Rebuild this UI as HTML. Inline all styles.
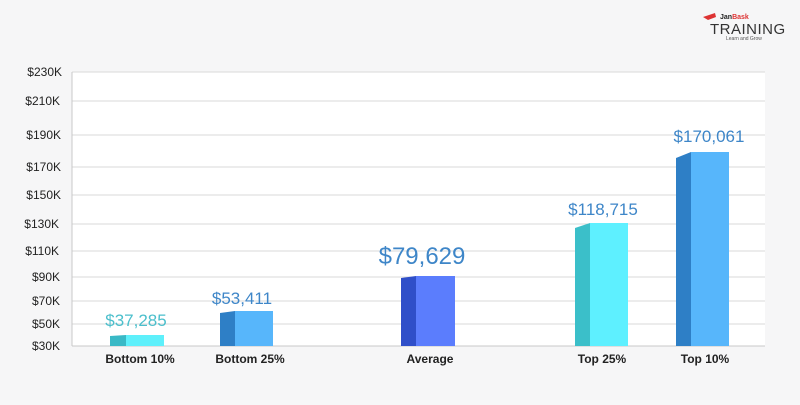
<!DOCTYPE html>
<html><head><style>
body{margin:0;width:800px;height:400px;background:#f7f7f8;font-family:"Liberation Sans",sans-serif;overflow:hidden}
</style></head><body>
<svg width="800" height="400" xmlns="http://www.w3.org/2000/svg" font-family="Liberation Sans, sans-serif">
<rect x="0" y="0" width="800" height="400" fill="#f6f6f7"/>
<rect x="72" y="72" width="693" height="274" fill="#ffffff"/>
<g stroke="#d9d9d9" stroke-width="1">
<line x1="72" y1="72" x2="765" y2="72"/><line x1="72" y1="101" x2="765" y2="101"/>
<line x1="72" y1="135" x2="765" y2="135"/><line x1="72" y1="167" x2="765" y2="167"/>
<line x1="72" y1="195" x2="765" y2="195"/><line x1="72" y1="224" x2="765" y2="224"/>
<line x1="72" y1="251" x2="765" y2="251"/><line x1="72" y1="277" x2="765" y2="277"/>
<line x1="72" y1="301" x2="765" y2="301"/><line x1="72" y1="324" x2="765" y2="324"/>
<line x1="72" y1="346" x2="765" y2="346" stroke="#c8c8c8"/>
<line x1="72" y1="72" x2="72" y2="346" stroke="#c8c8c8"/>
</g>
<g font-size="12" fill="#222" text-anchor="end">
<text x="62" y="76">$230K</text><text x="60" y="105">$210K</text>
<text x="61" y="139">$190K</text><text x="61" y="171">$170K</text>
<text x="61" y="199">$150K</text><text x="59" y="228">$130K</text>
<text x="59" y="255">$110K</text><text x="60" y="281">$90K</text>
<text x="60" y="305">$70K</text><text x="60" y="328">$50K</text>
<text x="60" y="350">$30K</text>
</g>
<polygon points="110,336 126,335 126,346 110,346" fill="#39b9c6"/>
<rect x="126" y="335" width="38" height="11" fill="#5ef0fb"/>
<polygon points="220,313 235,311 235,346 220,346" fill="#2e7fc6"/>
<rect x="235" y="311" width="38" height="35" fill="#57b6fb"/>
<polygon points="401,278 416,276 416,346 401,346" fill="#2f4fc9"/>
<rect x="416" y="276" width="39" height="70" fill="#5b7dfd"/>
<polygon points="575,228 590,223 590,346 575,346" fill="#3bbfc9"/>
<rect x="590" y="223" width="38" height="123" fill="#5ef0ff"/>
<polygon points="676,158 691,152 691,346 676,346" fill="#2e7fc6"/>
<rect x="691" y="152" width="38" height="194" fill="#57b6fb"/>
<g font-size="17" text-anchor="middle">
<text x="136" y="326" fill="#4bbfcc">$37,285</text>
<text x="242" y="304" fill="#3e86c8">$53,411</text>
<text x="422" y="264" fill="#3e86c8" font-size="24">$79,629</text>
<text x="603" y="215" fill="#3e86c8">$118,715</text>
<text x="709" y="142" fill="#3e86c8">$170,061</text>
</g>
<g font-size="12" font-weight="bold" fill="#222" text-anchor="middle">
<text x="140" y="363">Bottom 10%</text>
<text x="250" y="363">Bottom 25%</text>
<text x="430" y="363">Average</text>
<text x="602" y="363">Top 25%</text>
<text x="705" y="363">Top 10%</text>
</g>
<g>
<text x="720" y="19" font-size="7" font-weight="bold" fill="#222">Jan<tspan fill="#d33">Bask</tspan></text>
<polygon points="703,17 715,13 716,17 708,20" fill="#d33"/>
<text x="710" y="34" font-size="15" fill="#333" letter-spacing="0.5">TRAINING</text>
<text x="726" y="40" font-size="5" fill="#555">Learn and Grow</text>
</g>
</svg>
</body></html>
